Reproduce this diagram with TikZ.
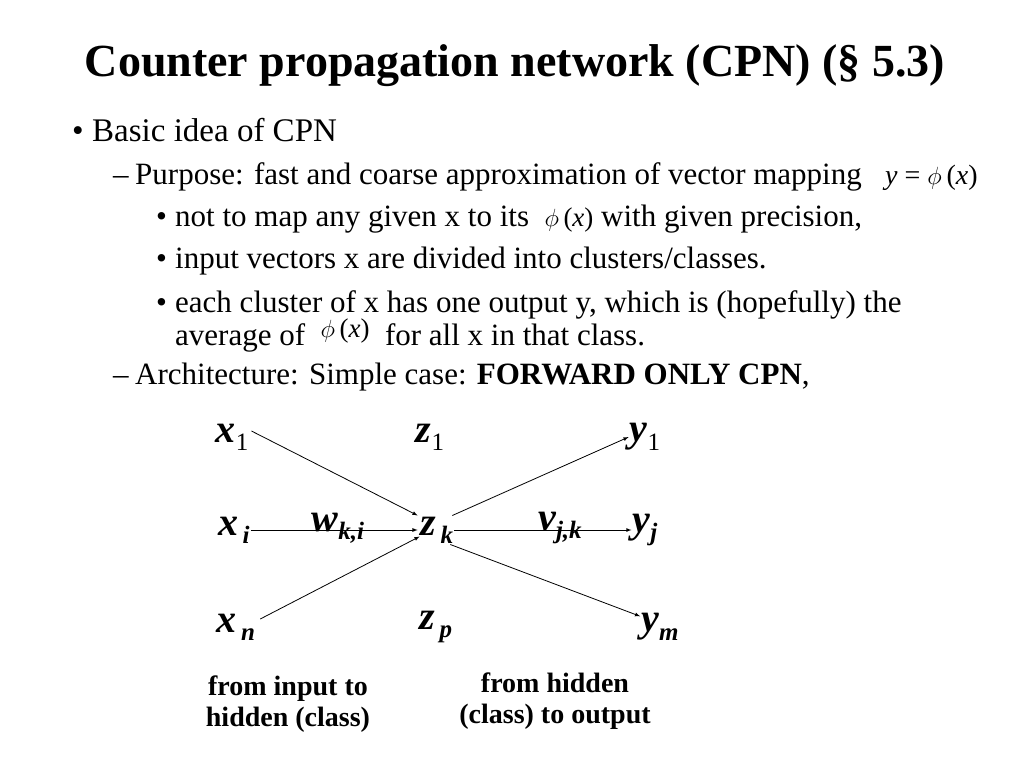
\documentclass[tikz,border=0pt]{standalone}
\usepackage{fontspec}
\setmainfont{Liberation Serif}
\usetikzlibrary{positioning}
\newcommand{\sym}[2]{{\bfseries\itshape #1}\raisebox{-0.45ex}{\fontsize{25}{26}\selectfont #2}}
\newcommand{\phix}{{\fontsize{27}{28}\selectfont$\phi$\,(\textit{x})}}
\begin{document}
\begin{tikzpicture}[x=1pt,y=-1pt]
    % Styles
    \tikzset{
        title/.style={font=\fontsize{46}{50}\selectfont\bfseries},
        body/.style={anchor=base west,font=\fontsize{33}{36}\selectfont,inner sep=0pt},
        sub/.style={anchor=base west,font=\fontsize{31}{34}\selectfont,inner sep=0pt,align=left},
        unit/.style={font=\fontsize{40}{40}\selectfont,inner sep=1pt},
        weight/.style={font=\fontsize{40}{40}\selectfont,inner sep=0pt},
        note/.style={font=\fontsize{28}{31}\selectfont\bfseries,align=center},
        link/.style={-latex,thick}
    }
    \useasboundingbox (0,0) rectangle (1024,768);
    %title and text
    \node[title] (title) at (515,66) {Counter propagation network (CPN) (§ 5.3)};
    \node[body] (b1) at (72,141) {•};
    \node[body] (t1) at (92,141) {Basic idea of CPN};
    \node[sub] (d1) at (113,184) {–};
    \node[sub] (t2) at (135,184) {Purpose: fast and coarse approximation of vector mapping};
    \node[sub] (f1) at (885,184) {\fontsize{28}{29}\selectfont\textit{y} = $\phi$\,(\textit{x})};
    \node[sub] (b2) at (156,226) {•};
    \node[sub] (t3) at (175,226) {not to map any given x to its \ \phix\ with given precision,};
    \node[sub] (b3) at (156,268) {•};
    \node[sub] (t4) at (175,268) {input vectors x are divided into clusters/classes.};
    \node[sub] (b4) at (156,312) {•};
    \node[sub] (t5) at (175,312) {each cluster of x has one output y, which is (hopefully) the};
    \node[sub] (t6) at (175,345) {average of \ \raisebox{0.5ex}{\phix}\ \ for all x in that class.};
    \node[sub] (d2) at (113,384) {–};
    \node[sub] (t7) at (135,384) {Architecture: Simple case: \textbf{FORWARD ONLY CPN},};
    %network
    \node[unit] (x1) at (232,437) {\sym{x}{1}};
    \node[unit] (xi) at (234,530) {\sym{x}{\,\itshape\bfseries i}};
    \node[unit] (xn) at (236,627) {\sym{x}{\,\itshape\bfseries n}};
    \node[unit] (z1) at (430,437) {\sym{z}{1}};
    \node[unit] (zk) at (437,530) {\sym{z}{\,\itshape\bfseries k}};
    \node[unit] (zp) at (436,627) {\sym{z}{\,\itshape\bfseries p}};
    \node[unit] (y1) at (645,437) {\sym{y}{1}};
    \node[unit] (yj) at (645,530) {\sym{y}{\itshape\bfseries j}};
    \node[unit] (ym) at (660,627) {\sym{y}{\itshape\bfseries m}};
    \node[weight] (w) at (338,528) {\sym{w}{\itshape\bfseries k,i}};
    \node[weight] (v) at (560,528) {\sym{v}{\itshape\bfseries j,k}};
    \draw[link] (x1.east) ++(2,-6) coordinate (x1o) (x1o) -- ([xshift=-2pt]zk.north west);
    \draw[link] (xi.east) -- ([xshift=-2pt]zk.west);
    \draw[link] (xn.east) ++(4,-8) coordinate (xno) (xno) -- ([yshift=8pt]zk.south west);
    \draw[link] ([xshift=-2pt]zk.north east) -- (y1.west);
    \draw[link] (zk.east) -- (yj.west);
    \draw[link] ([xshift=-4pt]zk.south east) -- ([yshift=-4pt]ym.north west);
    \node[note] (n1) at (288,704) {from input to\\hidden (class)};
    \node[note] (n2) at (555,701) {from hidden\\(class) to output};
\end{tikzpicture}
\end{document}
